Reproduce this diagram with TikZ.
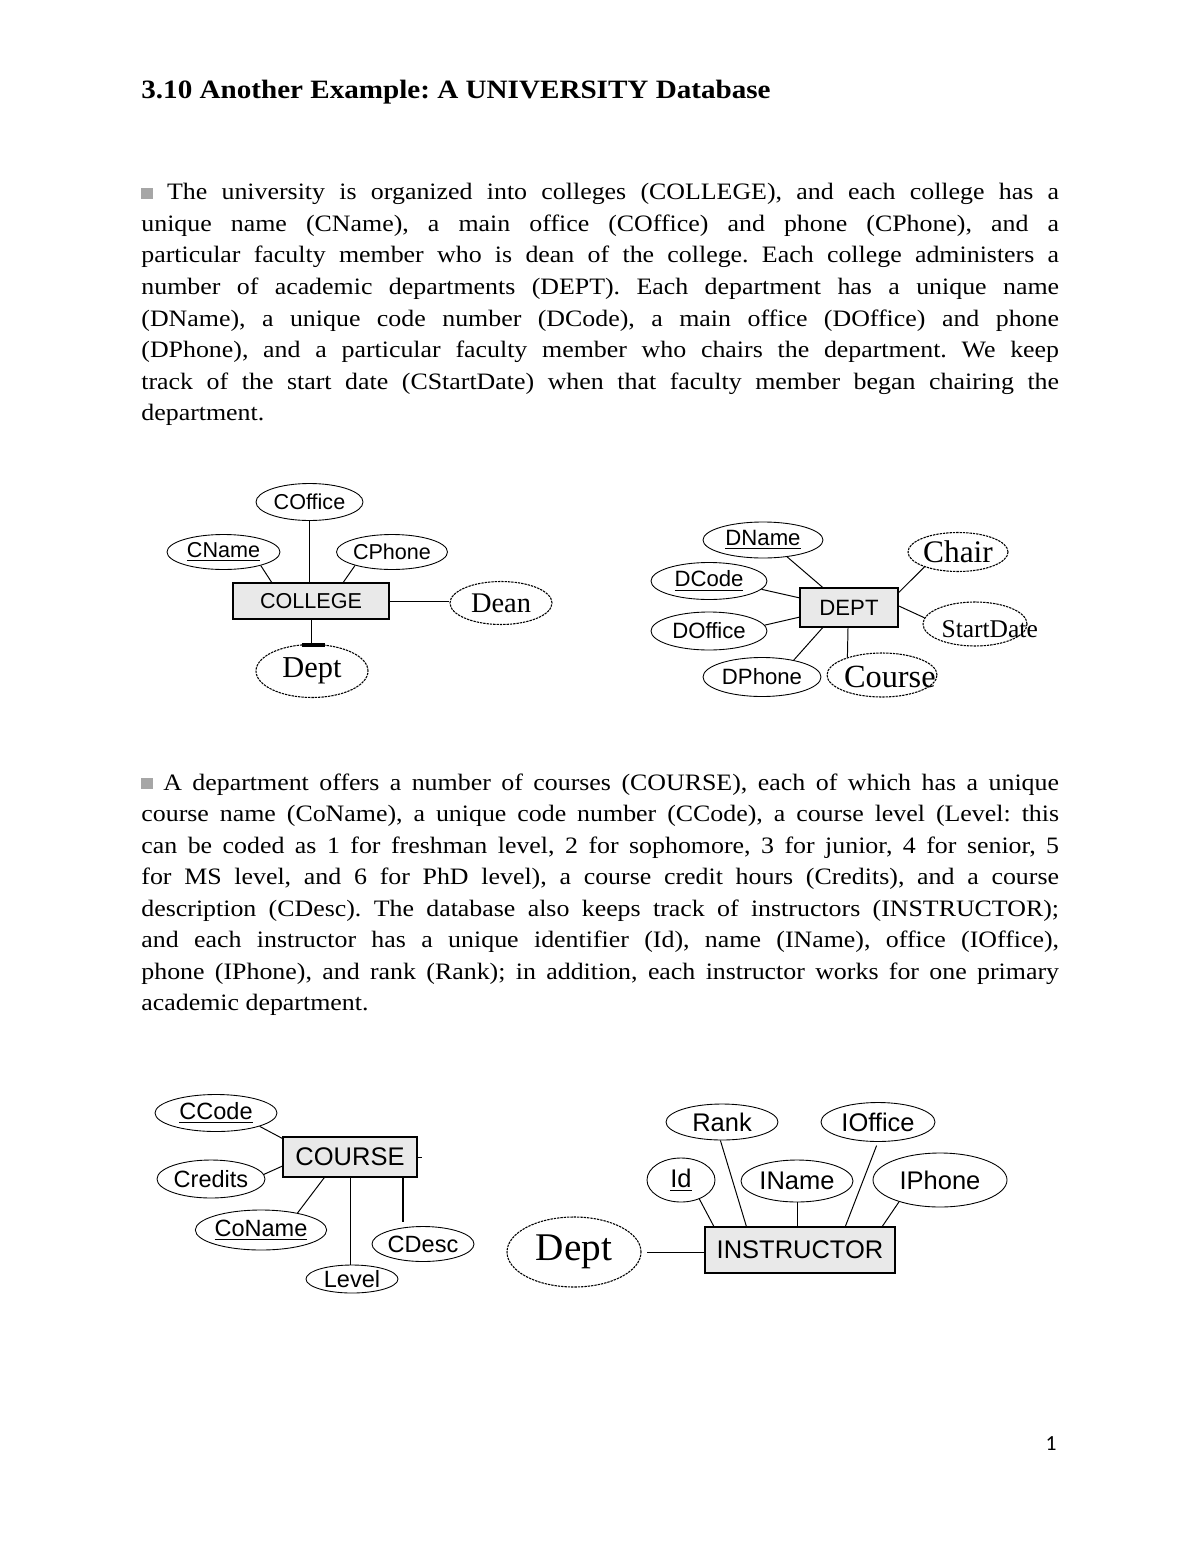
\documentclass[tikz,border=0pt]{standalone}
\usepackage{fontspec}
\setmainfont{Liberation Serif}[FakeStretch=1.1]
\newfontfamily\arialf{Liberation Sans}
\newfontfamily\timesf{Liberation Serif}
\newfontfamily\calibf{Carlito}
\usetikzlibrary{shapes.geometric,calc}
\frenchspacing
\newcommand\jl[1]{\hbox to 468pt{#1}}
\newcommand\gsq{\textcolor{gray!70}{\rule[0.3pt]{5.8pt}{5.8pt}}}
\tikzset{
  sz/.style 2 args={minimum width=#1*0.51pt, minimum height=#2*0.51pt},
  attr/.style={ellipse, draw, line width=0.45pt, inner sep=0pt, text=black},
  tattr/.style={ellipse, draw, line width=0.55pt, dash pattern=on 1.2pt off 0.5pt, inner sep=0pt},
  entity/.style={rectangle, draw, fill=gray!17, line width=0.6pt, inner sep=0pt},
  lnk/.style={line width=0.5pt},
  txtline/.style={anchor=base west, inner sep=0pt, font=\fontsize{12}{14}\selectfont},
}
\begin{document}
\begin{tikzpicture}[x=0.51pt, y=-0.51pt]
\useasboundingbox (0,0) rectangle (1200,1553);
\fill[white] (0,0) rectangle (1200,1553);

% ---------- title ----------
\node[anchor=base west, inner sep=0pt, font=\bfseries\fontsize{13.5}{13.5}\selectfont] (title) at (141,99) {3.10 Another Example: A UNIVERSITY Database};

% ---------- paragraph 1 ----------
\node[txtline] (a1) at (141,200) {\jl{\gsq{} The university is organized into colleges (COLLEGE), and each college has a}};
\node[txtline] (a2) at (141,231.5) {\jl{unique name (CName), a main office (COffice) and phone (CPhone), and a}};
\node[txtline] (a3) at (141,263) {\jl{particular faculty member who is dean of the college. Each college administers a}};
\node[txtline] (a4) at (141,294.5) {\jl{number of academic departments (DEPT). Each department has a unique name}};
\node[txtline] (a5) at (141,326) {\jl{(DName), a unique code number (DCode), a main office (DOffice) and phone}};
\node[txtline] (a6) at (141,357.5) {\jl{(DPhone), and a particular faculty member who chairs the department. We keep}};
\node[txtline] (a7) at (141,389) {\jl{track of the start date (CStartDate) when that faculty member began chairing the}};
\node[txtline] (a8) at (141,420.5) {department.};

% ---------- paragraph 2 ----------
\node[txtline] (b1) at (141,790) {\jl{\gsq{} A department offers a number of courses (COURSE), each of which has a unique}};
\node[txtline] (b2) at (141,821.5) {\jl{course name (CoName), a unique code number (CCode), a course level (Level: this}};
\node[txtline] (b3) at (141,853) {\jl{can be coded as 1 for freshman level, 2 for sophomore, 3 for junior, 4 for senior, 5}};
\node[txtline] (b4) at (141,884.5) {\jl{for MS level, and 6 for PhD level), a course credit hours (Credits), and a course}};
\node[txtline] (b5) at (141,916) {\jl{description (CDesc). The database also keeps track of instructors (INSTRUCTOR);}};
\node[txtline] (b6) at (141,947.5) {\jl{and each instructor has a unique identifier (Id), name (IName), office (IOffice),}};
\node[txtline] (b7) at (141,979) {\jl{phone (IPhone), and rank (Rank); in addition, each instructor works for one primary}};
\node[txtline] (b8) at (141,1010.5) {academic department.};

% ---------- page number ----------
\node[anchor=base, inner sep=0pt, font=\calibf\fontsize{11}{11}\selectfont] (pg) at (1051,1450) {1};

% ---------- COLLEGE diagram ----------
\begin{scope}[every node/.append style={font=\arialf\fontsize{11}{11}\selectfont}]
\node[attr, sz={107}{37}] (coffice) at (309.5,502) {COffice};
\node[attr, sz={113}{35}] (cname) at (223.5,552) {\underline{CName}};
\node[attr, sz={111}{35}] (cphone) at (392,552) {CPhone};
\node[entity, sz={156}{36}] (college) at (311,601) {COLLEGE};
\end{scope}
\node[tattr, sz={102}{43}, font=\timesf\fontsize{14.5}{14.5}\selectfont] (dean) at (501,603) {Dean};
\node[tattr, sz={112}{53}, font=\timesf\fontsize{15.5}{15.5}\selectfont] (dept1) at (312,671) {Dept};
\draw[lnk] (coffice.south) -- (coffice.south |- college.north);
\draw[lnk] (cname.-20) -- ($(college.north west)!0.25!(college.north east)$);
\draw[lnk] (cphone.200) -- ($(college.north west)!0.705!(college.north east)$);
\draw[lnk] (college.east) -- (college.east -| dean.west);
\draw[lnk] (college.south) -- (college.south |- dept1.north);
\draw[line width=1.6pt] ($(dept1.north)+(-10,1)$) -- ($(dept1.north)+(13,1)$);

% ---------- DEPT diagram ----------
\begin{scope}[every node/.append style={font=\arialf\fontsize{11.3}{11.3}\selectfont}]
\node[attr, sz={120}{36}] (dname) at (763,540) {\underline{DName}};
\node[attr, sz={116}{37}] (dcode) at (709,581) {\underline{DCode}};
\node[attr, sz={116}{38}] (doffice) at (709,631) {DOffice};
\node[attr, sz={118}{39}] (dphone) at (762,677) {DPhone};
\node[entity, sz={98}{39}] (dept) at (849,607.5) {DEPT};
\end{scope}
\node[tattr, sz={110}{44}, label={[font=\timesf\fontsize{16.5}{16.5}\selectfont, xshift=4pt, yshift=-1pt]center:Course}] (course) at (882,675) {};
\node[tattr, sz={100}{39}, font=\timesf\fontsize{16}{16}\selectfont] (chair) at (958,552) {Chair};
\node[tattr, sz={104}{44}, label={[font=\timesf\fontsize{13}{13}\selectfont, xshift=7.5pt, yshift=-2.5pt]center:StartDate}] (startdate) at (975,624) {};
\draw[lnk] (dname.-35) -- ($(dept.north west)!0.235!(dept.north east)$);
\draw[lnk] (dcode.-9) -- ($(dept.north west)!0.26!(dept.south west)$);
\draw[lnk] (doffice.6) -- ($(dept.north west)!0.74!(dept.south west)$);
\draw[lnk] (dphone.28) -- ($(dept.south west)!0.235!(dept.south east)$);
\draw[lnk] ($(dept.south west)!0.49!(dept.south east)$) -- (course.153);
\draw[lnk] ($(dept.north east)!0.13!(dept.south east)$) -- (chair.204);
\draw[lnk] ($(dept.north east)!0.46!(dept.south east)$) -- (startdate.173);

% ---------- COURSE diagram ----------
\begin{scope}[every node/.append style={font=\arialf\fontsize{12}{12}\selectfont}]
\node[attr, sz={122}{37}] (ccode) at (216,1113) {\underline{CCode}};
\node[entity, sz={134}{40}, font=\arialf\fontsize{13}{13}\selectfont] (course2) at (350,1157) {COURSE};
\node[attr, sz={108}{38}] (credits) at (211,1179) {Credits};
\node[attr, sz={122}{40}] (coname) at (261,1230) {\underline{CoName}};
\node[attr, sz={92}{28}] (level) at (352,1279) {Level};
\node[attr, sz={102}{35}] (cdesc) at (423,1244) {CDesc};
\end{scope}
\draw[lnk] (ccode.-17) -- ($(course2.north west)!0.05!(course2.south west)$);
\draw[lnk] (credits.5) -- ($(course2.north west)!0.72!(course2.south west)$);
\draw[lnk] (coname.25) -- ($(course2.south west)!0.31!(course2.south east)$);
\draw[lnk] (course2.south) -- (course2.south |- level.north);
\coordinate (cdtop) at ($(course2.south west)!0.89!(course2.south east)$);
\draw[line width=1.2pt] (cdtop) -- ($(cdtop |- cdesc.north)+(0,-4)$);
\draw[lnk] (course2.east) -- ++(4,0);

% ---------- INSTRUCTOR diagram ----------
\begin{scope}[every node/.append style={font=\arialf\fontsize{13}{13}\selectfont}]
\node[attr, sz={112}{36}] (rank) at (722,1122) {Rank};
\node[attr, sz={114}{39}] (ioffice) at (878,1122) {IOffice};
\node[attr, sz={68}{44}] (id) at (681,1180) {\underline{Id}};
\node[attr, sz={112}{42}] (iname) at (797,1181) {IName};
\node[attr, sz={134}{54}] (iphone) at (940,1180) {IPhone};
\node[entity, sz={190}{46}, line width=0.9pt] (instr) at (800,1250) {INSTRUCTOR};
\end{scope}
\node[tattr, sz={134}{70}, font=\timesf\fontsize{20}{20}\selectfont] (dept2) at (574,1252) {Dept};
\draw[lnk, shorten <=3pt] (dept2.east) -- (dept2.east -| instr.west);
\draw[lnk] (id.-46) -- ($(instr.north west)!0.05!(instr.north east)$);
\draw[lnk] (rank.-95) -- ($(instr.north west)!0.22!(instr.north east)$);
\draw[lnk] (iname.south) -- (iname.south |- instr.north);
\draw[lnk, shorten <=2pt] (ioffice.south) -- ($(instr.north west)!0.737!(instr.north east)$);
\draw[lnk] (iphone.208) -- ($(instr.north west)!0.93!(instr.north east)$);
\end{tikzpicture}
\end{document}
